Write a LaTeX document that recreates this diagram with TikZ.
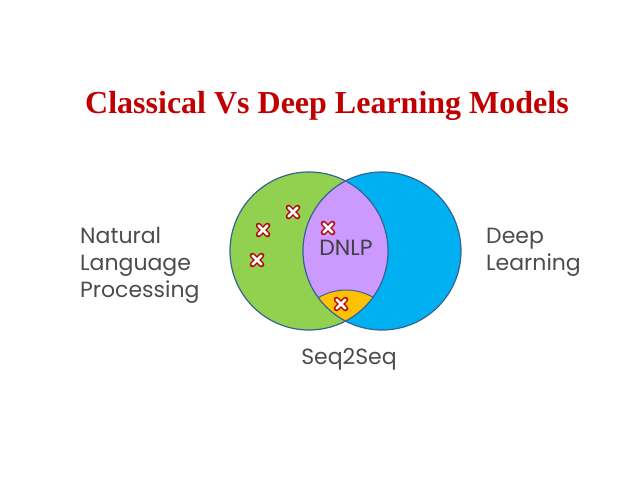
\documentclass[tikz,border=0pt]{standalone}
\usepackage{fontspec}
\setmainfont{Liberation Serif}
\newfontfamily\lab{Poppins}
\begin{document}
\begin{tikzpicture}[x=1pt,y=-1pt,
  lbl/.style={font=\lab\fontsize{22}{26}\selectfont,text=black!70,anchor=base west,inner sep=0},
  cross/.pic={\draw[line width=5.5pt,red!70!black,line cap=round](-4.5,-4.5)--(4.5,4.5)(-4.5,4.5)--(4.5,-4.5);
              \draw[line width=2.6pt,white,line cap=round](-4.5,-4.5)--(4.5,4.5)(-4.5,4.5)--(4.5,-4.5);}]
\useasboundingbox (0,0) rectangle (638,493);
\definecolor{gr}{RGB}{146,208,80}
\definecolor{bl}{RGB}{0,176,240}
\definecolor{pu}{RGB}{204,153,255}
\definecolor{og}{RGB}{255,192,0}
\definecolor{ed}{RGB}{50,100,150}
\node[font=\bfseries\fontsize{32}{36}\selectfont,text={rgb,255:red,192;green,0;blue,0},anchor=base,inner sep=0] (title) at (327,113) {Classical Vs Deep Learning Models};
\fill[gr] (309,251) circle (79);
\fill[bl] (382,251) circle (79);
\begin{scope}
\clip (309,251) circle (79);
\fill[pu] (382,251) circle (79);
\clip (382,251) circle (79);
\fill[og] (346,344) circle (54);
\draw[ed,line width=1pt] (346,344) circle (54);
\end{scope}
\draw[ed,line width=1.2pt] (309,251) circle (79) (382,251) circle (79);
\pic at (293,212) {cross};
\pic at (263,230) {cross};
\pic at (257,260) {cross};
\pic at (328,228) {cross};
\pic at (341,304) {cross};
\node[font=\lab\fontsize{22}{26}\selectfont,text=black!75,anchor=base,inner sep=0] (dnlp) at (346,255) {DNLP};
\node[lbl] (n1) at (80,243) {Natural};
\node[lbl] (n2) at (80,270) {Language};
\node[lbl] (n3) at (80,297) {Processing};
\node[lbl] (d1) at (486,243) {Deep};
\node[lbl] (d2) at (486,270) {Learning};
\node[lbl,anchor=base] (s) at (349,364) {Seq2Seq};
\end{tikzpicture}
\end{document}
